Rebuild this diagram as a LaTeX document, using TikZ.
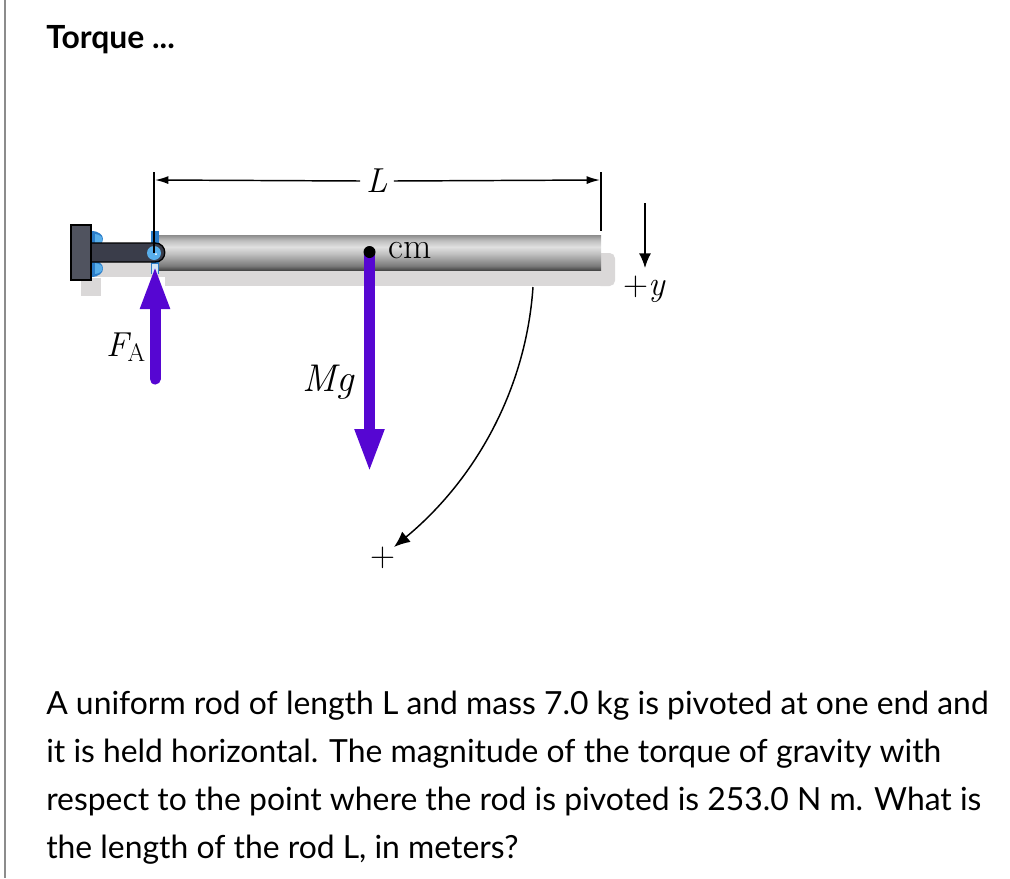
\documentclass[tikz,border=0pt]{standalone}
\usepackage{fontspec}
\setmainfont{Lato}
\newfontfamily\labelfont{Latin Modern Roman}
\usetikzlibrary{arrows.meta}
\definecolor{forcecol}{HTML}{5606D2}
\definecolor{shadowcol}{HTML}{DAD8D8}
\definecolor{platecol}{HTML}{50535F}
\definecolor{armcol}{HTML}{3A3D4A}
\definecolor{boltcol}{HTML}{2A7CC8}
\definecolor{domecol}{HTML}{58AEEA}
\pgfdeclareverticalshading{rodshade}{100bp}{
	color(0bp)=(black!72!white);
	color(25bp)=(black!72!white);
	color(31bp)=(black!52!white);
	color(48bp)=(black!25!white);
	color(58bp)=(black!12!white);
	color(67bp)=(black!25!white);
	color(75bp)=(black!45!white);
	color(100bp)=(black!45!white)}
\tikzset{
	force/.style={line width=8.25pt, forcecol, -{Triangle[length=33pt, width=20pt]}},
	thin line/.style={line width=1.1pt, black},
	dim/.style={line width=1.1pt, black, -{Latex[length=10pt, width=6pt]}},
	label/.style={inner sep=0pt, font=\fontsize{26}{30}\selectfont\labelfont},
	shadow/.style={fill=shadowcol, draw=none}
}
\begin{document}
\begin{tikzpicture}[x=0.75pt, y=-0.75pt]
	\useasboundingbox (0,0) rectangle (1010,878);
	\draw [line width=1.5pt, black!45] (5,0) -- (5,878);
	\node [anchor=base west, inner sep=0pt, font=\fontsize{23.9}{28}\selectfont\bfseries] (title) at (46,48) {Torque ...};
	% shadow
	\fill [shadow] (81,278) rectangle (101,296);
	\fill [shadow] (91,260) rectangle (165,277);
	\fill [shadow] (165,268) rectangle (605,286);
	\fill [shadow, rounded corners=4pt] (595,253) -- (615,253) -- (615,286) -- (595,286) -- cycle;
	% rod
	\shade [shading=rodshade] (155,235) rectangle (601,270);
	% bracket
	\fill [boltcol] (91,231) .. controls (107,231) and (107,247) .. (91,247) -- cycle;
	\fill [boltcol] (91,260) .. controls (107,260) and (107,277) .. (91,277) -- cycle;
	\fill [domecol] (95,234) .. controls (105,235) and (105,244) .. (95,245) -- cycle;
	\fill [domecol] (95,263) .. controls (105,264) and (105,273) .. (95,274) -- cycle;
	\fill [boltcol] (151,231) rectangle (159,274);
	\fill [white!80!boltcol] (152,264) rectangle (158,274);
	\draw [line width=1pt, black, fill=armcol] (91,243) -- (155,243) .. controls (168,243) and (168,262) .. (155,262) -- (91,262) -- cycle;
	\draw [line width=1pt, black, fill=platecol] (71,225) rectangle (91,280);
	\fill [domecol] (154,253) circle (7);
	\fill [white] (156,254) circle (1);
	% dimension
	\node [label] (lenlabel) at (377,181) {\itshape L};
	\coordinate (pivot) at (154,253);
	\coordinate (pivottop) at (154,172);
	\coordinate (endtop) at (601,172);
	\coordinate (endbottom) at (601,231);
	\coordinate (dimleft) at (155,180);
	\coordinate (dimright) at (600,180);
	\draw [thin line] (pivottop) -- (pivot);
	\draw [thin line] (endtop) -- (endbottom);
	\draw [dim] (lenlabel.west) ++(-6,0) -- (dimleft);
	\draw [dim] (lenlabel.east) ++(6,0) -- (dimright);
	% forces
	\coordinate (cmpoint) at (369.5,252);
	\coordinate (mgtip) at (369.5,473);
	\coordinate (fbottom) at (155,379);
	\coordinate (ftip) at (155,265);
	\draw [force] (cmpoint) -- (mgtip);
	\draw [force, line cap=round] (fbottom) -- (ftip);
	\fill [black] (cmpoint) circle (6);
	\node [label, font=\fontsize{27.5}{30}\selectfont\labelfont] (cmlabel) at (410,251) {cm};
	\node [label, font=\fontsize{29}{32}\selectfont\labelfont] (mglabel) at (328,382) {\itshape Mg};
	\node [label] (falabel) at (126,347) {\itshape F\kern-1pt\raisebox{-4pt}{\fontsize{19}{22}\selectfont\upshape A}};
	% +y
	\node [label] (ylabel) at (644,289) {+\itshape y};
	\coordinate (ytop) at (645,203);
	\coordinate (ytip) at (645,268);
	\draw [black, line width=1.1pt, -{Latex[length=11pt, width=9pt]}] (ytop) -- (ytip);
	% rotation
	\node [label] (pluslabel) at (383,558) {+};
	\coordinate (arcstart) at (533,287);
	\coordinate (arcend) at (394,547);
	\draw [black, line width=1.1pt, -{Latex[length=12pt, width=10pt]}] (arcstart) .. controls (526,390) and (475,480) .. (arcend);
	% question
	\node [anchor=base west, inner sep=0pt, align=left, font=\fontsize{23.9}{36}\selectfont] (question) at (46,858) {A uniform rod of length L and mass 7.0 kg is pivoted at one end and\\it is held horizontal. The magnitude of the torque of gravity with\\respect to the point where the rod is pivoted is 253.0 N m. What is\\the length of the rod L, in meters?};
\end{tikzpicture}
\end{document}
